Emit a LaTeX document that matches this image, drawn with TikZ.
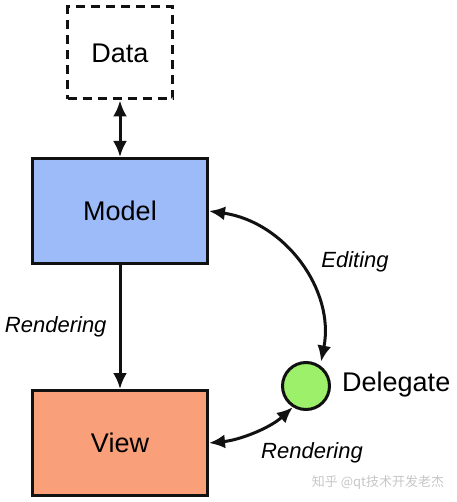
\documentclass[tikz,border=0pt]{standalone}
\usepackage{fontspec}
\setmainfont{Liberation Sans}
\newfontfamily\cjk{Noto Sans CJK SC}
\usetikzlibrary{arrows.meta}
\definecolor{modelblue}{HTML}{9DBBF8}
\definecolor{viewsalmon}{HTML}{F9A07A}
\definecolor{delgreen}{HTML}{9CF06A}
\definecolor{inkc}{HTML}{111111}
\tikzset{
  box/.style={draw=inkc, line width=3pt, minimum width=175pt, minimum height=105pt, inner sep=0pt, font=\fontsize{27}{32}\selectfont},
  lbl/.style={font=\fontsize{22}{26}\selectfont\itshape, inner sep=0pt},
  conn/.style={draw=inkc, line width=3pt},
}
\begin{document}
\begin{tikzpicture}[x=1pt,y=-1pt]
\useasboundingbox[fill=white] (0,0) rectangle (456,502);
\node[box, dashed, dash pattern=on 9pt off 6pt, minimum width=105pt, minimum height=92pt] (data) at (120,53) {Data};
\node[box, fill=modelblue] (model) at (120,211) {Model};
\node[box, fill=viewsalmon] (view) at (120,443) {View};
\node[circle, draw=inkc, line width=3pt, fill=delgreen, minimum size=47pt, inner sep=0pt] (del) at (306,386) {};
\node[anchor=west, inner sep=0pt, font=\fontsize{27}{32}\selectfont] (dlbl) at (342,385) {Delegate};
\draw[conn, {Latex[length=16pt,width=14pt]}-{Latex[length=16pt,width=14pt]}] (data.south) -- (model.north);
\draw[conn, -{Latex[length=16pt,width=14pt]}] (model.south) -- (view.north) node[midway, left=12pt, lbl] (r1) {Rendering};
\draw[conn, {Latex[length=16pt,width=14pt]}-{Latex[length=16pt,width=14pt]}, shorten >=4pt] (model.east) .. controls (285,222) and (335,290) .. (del.55);
\node[lbl] (ed) at (355,262) {Editing};
\draw[conn, {Latex[length=16pt,width=14pt]}-{Latex[length=16pt,width=14pt]}] (view.east) .. controls (240,440) and (270,428) .. (del.238);
\node[lbl] (r2) at (312,453) {Rendering};
\node[inner sep=0pt, text=black!22, font=\cjk\fontsize{13}{15}\selectfont] (wm) at (378,482) {知乎 @qt技术开发老杰};
\end{tikzpicture}
\end{document}
